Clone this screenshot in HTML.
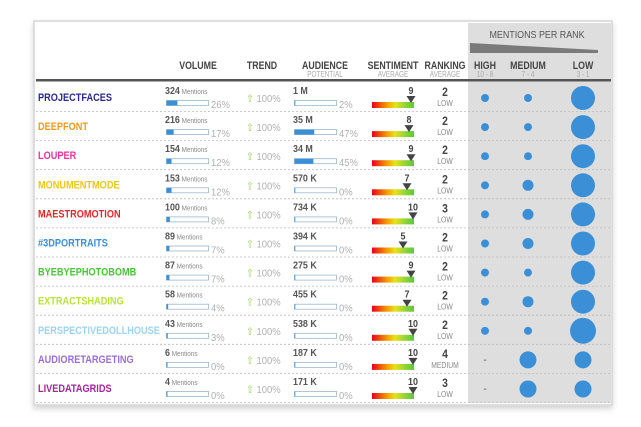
<!DOCTYPE html>
<html><head><meta charset="utf-8"><style>
body{margin:0;width:641px;height:427px;background:#fff;overflow:hidden;font-family:"Liberation Sans",sans-serif;}
svg{display:block}
</style></head><body>
<svg id="c" width="641" height="427" xmlns="http://www.w3.org/2000/svg">
<defs>
<linearGradient id="sg" x1="0" x2="1"><stop offset="0" stop-color="#e8001a"/><stop offset="0.35" stop-color="#f39a00"/><stop offset="0.55" stop-color="#e9e21a"/><stop offset="0.8" stop-color="#8fd33a"/><stop offset="1" stop-color="#5cc83c"/></linearGradient>
<filter id="sh" x="-5%" y="-5%" width="110%" height="115%"><feDropShadow dx="0" dy="3" stdDeviation="3" flood-color="#000" flood-opacity="0.18"/></filter>
</defs>
<rect x="34" y="21" width="578" height="384" fill="#fff" stroke="#d4d4d4" stroke-width="1.5" filter="url(#sh)"/>
<rect x="468" y="23" width="143" height="380" fill="#dedede"/>
<text transform="translate(537,38) scale(0.85,1)" font-size="10.5" fill="#555" text-anchor="middle">MENTIONS PER RANK</text>
<polygon points="470,43 598,50 598,53 470,53" fill="#7a7a7a"/>
<g font-size="11" font-weight="bold" fill="#444" text-anchor="middle">
<text transform="translate(198,69) scale(0.8,1)">VOLUME</text>
<text transform="translate(262,69) scale(0.8,1)">TREND</text>
<text transform="translate(325,69) scale(0.8,1)">AUDIENCE</text>
<text transform="translate(393,69) scale(0.8,1)">SENTIMENT</text>
<text transform="translate(445,69) scale(0.8,1)">RANKING</text>
<text transform="translate(485,69) scale(0.8,1)">HIGH</text>
<text transform="translate(528,69) scale(0.8,1)">MEDIUM</text>
<text transform="translate(583,69) scale(0.8,1)">LOW</text>
</g>
<g font-size="8" fill="#aaa" text-anchor="middle">
<text transform="translate(325,77) scale(0.8,1)">POTENTIAL</text>
<text transform="translate(393,77) scale(0.8,1)">AVERAGE</text>
<text transform="translate(445,77) scale(0.8,1)">AVERAGE</text>
<text transform="translate(485,77) scale(0.8,1)">10 - 8</text>
<text transform="translate(528,77) scale(0.8,1)">7 - 4</text>
<text transform="translate(583,77) scale(0.8,1)">3 - 1</text>
</g>
<rect x="36" y="79" width="575" height="2.5" fill="#555"/>
<g id="rows"></g>
</svg>
<script>
const names=["PROJECTFACES","DEEPFONT","LOUPER","MONUMENTMODE","MAESTROMOTION","#3DPORTRAITS","BYEBYEPHOTOBOMB","EXTRACTSHADING","PERSPECTIVEDOLLHOUSE","AUDIORETARGETING","LIVEDATAGRIDS"];
const nameColors=["#2b2a8c","#f39a1e","#e8359a","#e9c81b","#e3262d","#3a8fd6","#4cc23c","#b9e33a","#9fd3ef","#9a6fd0","#9c2a9a"];
const mentions=[324,216,154,153,100,89,87,58,43,6,4];
const volumePct=[26,17,12,12,8,7,7,4,3,0,0];
const trendPct=[100,100,100,100,100,100,100,100,100,100,100];
const audience=["1 M","35 M","34 M","570 K","734 K","394 K","275 K","455 K","538 K","187 K","171 K"];
const audiencePct=[2,47,45,0,0,0,0,0,0,0,0];
const sentiment=[9,8,9,7,10,5,9,7,10,10,10];
const ranking=[2,2,2,2,3,2,2,2,2,4,3];
const rankLabel=["LOW","LOW","LOW","LOW","LOW","LOW","LOW","LOW","LOW","MEDIUM","LOW"];
const highCount=[11,11,11,11,11,11,11,11,11,0,0];
const mediumCount=[11,11,11,21,21,21,11,21,11,50,50];
const lowCount=[100,100,100,100,100,100,100,100,117,50,50];

const NS="http://www.w3.org/2000/svg";
const g=document.getElementById('rows');
function mk(t,a,txt){const e=document.createElementNS(NS,t);for(const k in a)e.setAttribute(k,a[k]);if(txt!==undefined)e.textContent=txt;g.appendChild(e);return e;}
function tx(x,y,sx,a,txt){a.transform=`translate(${x},${y}) scale(${sx},1)`;return mk('text',a,txt);}
const rowY=i=>97+i*29.1;
const barW=42;
const pctX=p=>barW*p/100;
const sentX=s=>393+s*2;
const rad=v=>1.2*Math.sqrt(v);
names.forEach((n,i)=>{
 const y=rowY(i);
 let e;
 e=tx(38,y+4,0.82,{'font-size':11.2,'font-weight':'bold',fill:nameColors[i]},n);
 
 e=tx(165,y-3,0.85,{'font-size':10.5,'font-weight':'bold',fill:'#555'});
 e.innerHTML=mentions[i]+'<tspan font-size="7.5" font-weight="normal" fill="#888"> Mentions</tspan>';
 
 e=mk('rect',{x:166.5,y:y+3.5,width:barW,height:5,fill:'#fff',stroke:'#9bb8cc','stroke-width':0.8});
 
 e=mk('rect',{x:166.5,y:y+3.5,width:Math.max(pctX(volumePct[i]),1),height:5,fill:'#3a8fd6'});
 
 e=tx(211,y+11,0.9,{'font-size':10.5,fill:'#b0b0b0'},volumePct[i]+'%');
 
 e=tx(246,y+5,0.9,{'font-size':10.5,fill:'#b0b0b0'});
 e.innerHTML='<tspan fill="#9bd35a">⇧</tspan> '+trendPct[i]+'%';
 
 e=tx(293,y-3,0.85,{'font-size':10.5,'font-weight':'bold',fill:'#555'},audience[i]);
 
 e=mk('rect',{x:294.5,y:y+3.5,width:barW,height:5,fill:'#fff',stroke:'#9bb8cc','stroke-width':0.8});
 
 e=mk('rect',{x:294.5,y:y+3.5,width:Math.max(pctX(audiencePct[i]),0.8),height:5,fill:'#3a8fd6'});
 
 e=tx(339,y+11,0.9,{'font-size':10.5,fill:'#b0b0b0'},audiencePct[i]+'%');
 
 e=mk('rect',{x:372,y:y+5,width:42,height:6,fill:'url(#sg)'});
 
 const sx=sentX(sentiment[i]);
 e=mk('polygon',{points:`${sx-4.5},${y-1} ${sx+4.5},${y-1} ${sx},${y+6}`,fill:'#444'});
 
 e=tx(sx,y-3,0.85,{'font-size':10.5,'font-weight':'bold',fill:'#444','text-anchor':'middle'},sentiment[i]);
 
 e=tx(445,y-1,0.9,{'font-size':11.5,'font-weight':'bold',fill:'#444','text-anchor':'middle'},ranking[i]);
 
 e=tx(445,y+9,0.85,{'font-size':8,fill:'#888','text-anchor':'middle'},rankLabel[i]);
 
 [[485,highCount[i]],[528,mediumCount[i]],[583,lowCount[i]]].forEach(([cx,v])=>{
  if(v>0){e=mk('circle',{cx:cx,cy:y+1,r:rad(v),fill:'#3a8fd6'});}
  else{e=mk('text',{x:cx,y:y+4,'font-size':10,fill:'#555','text-anchor':'middle'},'-');}
  
 });
 e=mk('line',{x1:36,x2:611,y1:y+14.5,y2:y+14.5,stroke:'#bbb','stroke-width':0.8,'stroke-dasharray':'2,2'});
 
});
</script>
</body></html>
